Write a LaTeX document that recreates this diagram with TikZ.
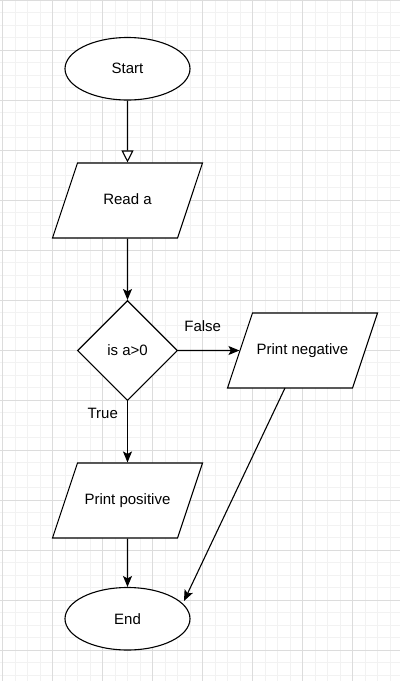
\documentclass[tikz,border=0pt]{standalone}
\usepackage{fontspec}
\setmainfont{Liberation Sans}
\usetikzlibrary{shapes.geometric,arrows.meta}
\definecolor{gmajor}{HTML}{DCDCDC}
\definecolor{gminor}{HTML}{F2F2F2}
\begin{document}
\begin{tikzpicture}[x=1pt,y=-1pt,
  font=\fontsize{15}{18}\selectfont,
  minorline/.style={draw=gminor, line width=1pt},
  majorline/.style={draw=gmajor, line width=1pt},
  box/.style={draw, line width=1.1pt, fill=white, inner sep=0pt},
  termbox/.style={box, ellipse, minimum width=125, minimum height=62.5},
  iobox/.style={box, trapezium, trapezium left angle=71.565, trapezium right angle=108.435,
    text height=11pt, text depth=3.5pt, inner xsep=4pt, inner ysep=30.25pt,
    trapezium stretches body=true, minimum width=150},
  decbox/.style={box, diamond, aspect=1, minimum width=100, minimum height=100},
  conn/.style={draw, line width=1.1pt, -{Stealth[length=11pt,width=9pt,inset=2.5pt]}},
  openconn/.style={draw, line width=1.1pt, -{Triangle[fill=white,length=12pt,width=12pt]}},
  lbl/.style={inner sep=0pt}]
\useasboundingbox (0,0) rectangle (400,681);
\fill[white] (0,0) rectangle (400,681);
% grid
\foreach \i in {0,...,31} \draw[minorline] ({2.5+12.5*\i},0) -- ({2.5+12.5*\i},681);
\foreach \i in {0,...,54} \draw[minorline] (0,{12.5*\i}) -- (400,{12.5*\i});
\foreach \i in {0,...,7} \draw[majorline] ({2.5+50*\i},0) -- ({2.5+50*\i},681);
\foreach \i in {0,...,13} \draw[majorline] (0,{50*\i}) -- (400,{50*\i});
% nodes
\node[termbox] (start) at (127.5,68.75) {Start};
\node[iobox] (read) at (127.5,200.5) {Read a};
\node[decbox] (dec) at (127.5,350.5) {is a>0};
\node[iobox] (neg) at (302.5,350.5) {Print negative};
\node[iobox] (pos) at (127.5,500.5) {Print positive};
\node[termbox] (end) at (127.5,618.75) {End};
\coordinate (negout) at (285,388);
\coordinate (endin) at (184,601);
% connectors
\draw[openconn] (start) -- (read);
\draw[conn] (read) -- (dec);
\draw[conn] (dec) -- (neg);
\draw[conn] (dec) -- (pos);
\draw[conn] (pos) -- (end);
\draw[conn] (negout) -- (endin);
% labels
\node[lbl] (flbl) at (202.7,325.7) {False};
\node[lbl] (tlbl) at (102.7,413.3) {True};
\end{tikzpicture}
\end{document}
